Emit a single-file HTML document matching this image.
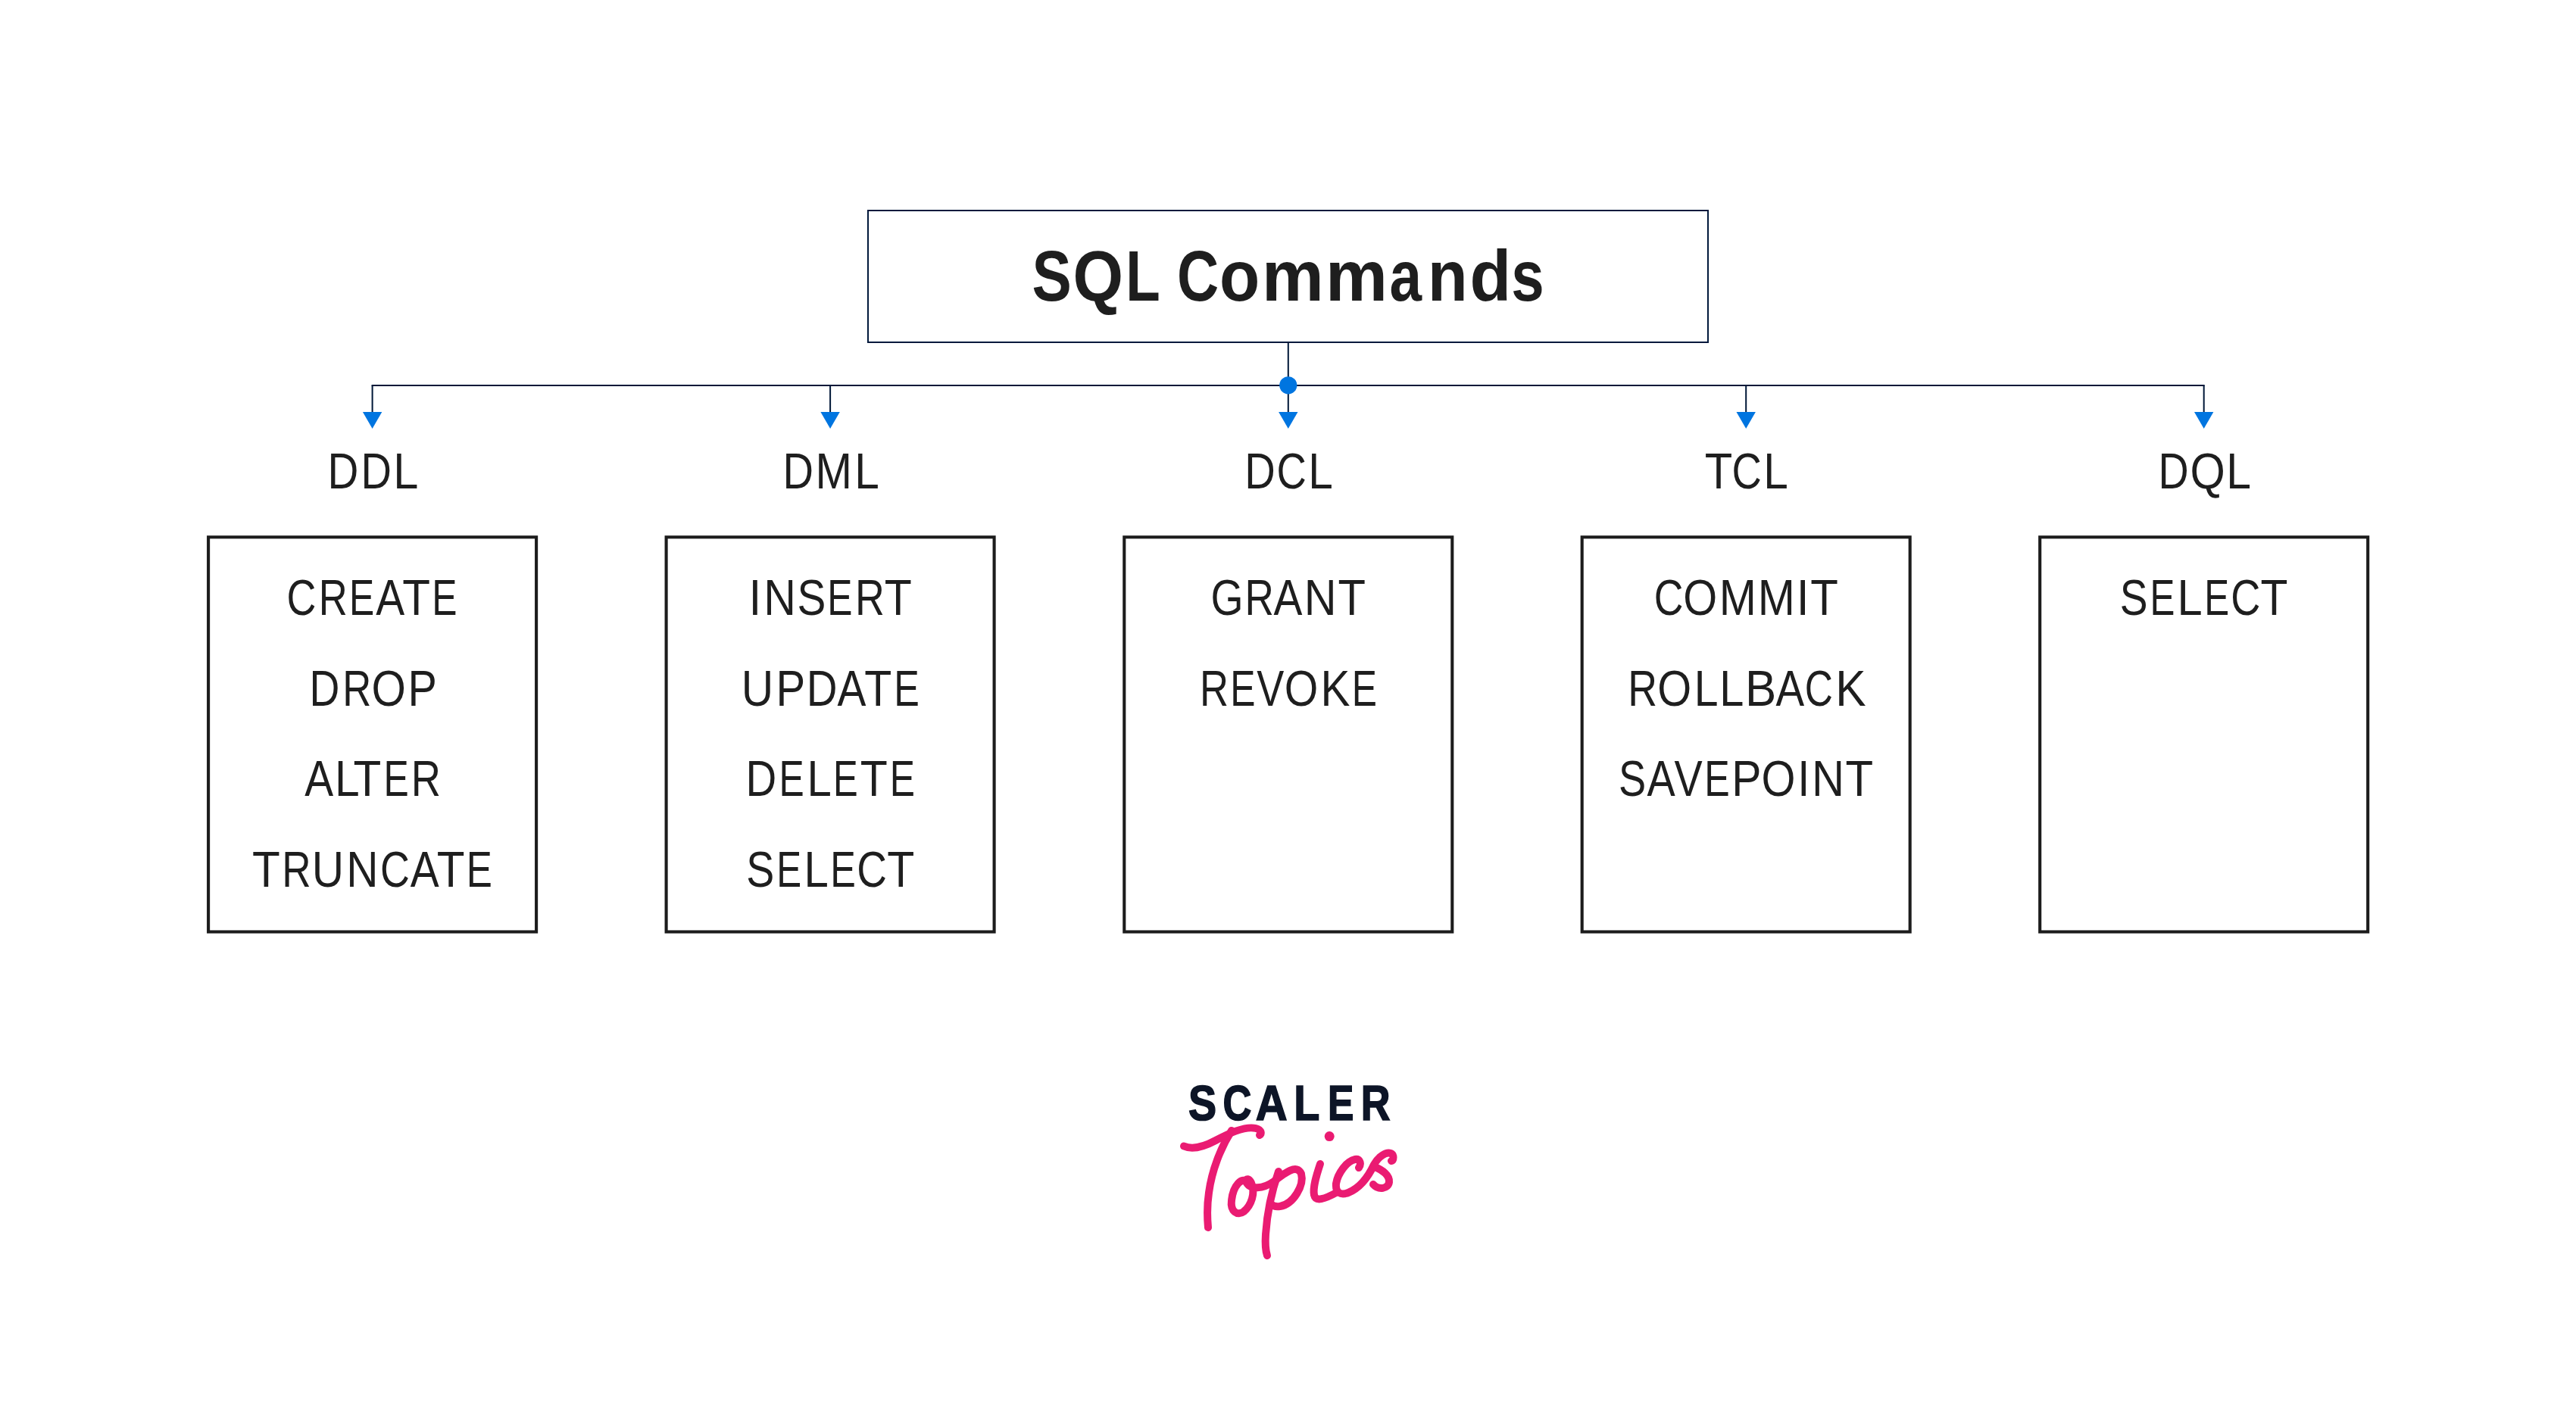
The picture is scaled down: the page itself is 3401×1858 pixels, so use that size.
<!DOCTYPE html>
<html><head><meta charset="utf-8"><title>SQL Commands</title>
<style>
html,body{margin:0;padding:0;background:#ffffff;}
body{width:3401px;height:1858px;overflow:hidden;}
svg{display:block;}
text{font-family:"Liberation Sans", sans-serif;}
</style></head>
<body>
<svg width="3401" height="1858" viewBox="0 0 3401 1858">
<rect width="3401" height="1858" fill="#ffffff"/>
<rect x="1146" y="278" width="1109" height="174" fill="none" stroke="#02193c" stroke-width="2"/>
<text transform="translate(1362.55 396.90) scale(0.8366 1)" font-size="93.75" font-weight="bold" fill="#1e1e1e">S</text>
<text transform="translate(1416.41 396.90) scale(0.9130 1)" font-size="93.75" font-weight="bold" fill="#1e1e1e">Q</text>
<text transform="translate(1486.18 396.90) scale(0.7948 1)" font-size="93.75" font-weight="bold" fill="#1e1e1e">L</text>
<text transform="translate(1553.89 396.90) scale(0.8147 1)" font-size="93.75" font-weight="bold" fill="#1e1e1e">C</text>
<text transform="translate(1609.91 396.90) scale(0.9303 1)" font-size="93.75" font-weight="bold" fill="#1e1e1e">o</text>
<text transform="translate(1666.03 396.90) scale(0.9813 1)" font-size="93.75" font-weight="bold" fill="#1e1e1e">m</text>
<text transform="translate(1749.92 396.90) scale(0.9827 1)" font-size="93.75" font-weight="bold" fill="#1e1e1e">m</text>
<text transform="translate(1834.50 396.90) scale(0.8160 1)" font-size="93.75" font-weight="bold" fill="#1e1e1e">a</text>
<text transform="translate(1884.92 396.90) scale(0.9184 1)" font-size="93.75" font-weight="bold" fill="#1e1e1e">n</text>
<text transform="translate(1940.44 396.90) scale(0.9541 1)" font-size="93.75" font-weight="bold" fill="#1e1e1e">d</text>
<text transform="translate(1995.29 396.90) scale(0.8333 1)" font-size="93.75" font-weight="bold" fill="#1e1e1e">s</text>
<rect x="1699.8" y="452" width="2" height="57" fill="#011838"/>
<rect x="490.6" y="508" width="2420.1" height="2" fill="#011838"/>
<rect x="490.6" y="509" width="2" height="36" fill="#011838"/>
<path d="M478.9 544 L504.3 544 L491.6 566 Z" fill="#0075e0"/>
<rect x="1095.1" y="509" width="2" height="36" fill="#011838"/>
<path d="M1083.4 544 L1108.8 544 L1096.1 566 Z" fill="#0075e0"/>
<rect x="1699.8" y="509" width="2" height="36" fill="#011838"/>
<path d="M1688.1 544 L1713.5 544 L1700.8 566 Z" fill="#0075e0"/>
<rect x="2304.2" y="509" width="2" height="36" fill="#011838"/>
<path d="M2292.5 544 L2317.9 544 L2305.2 566 Z" fill="#0075e0"/>
<rect x="2908.7" y="509" width="2" height="36" fill="#011838"/>
<path d="M2897.0 544 L2922.4 544 L2909.7 566 Z" fill="#0075e0"/>
<circle cx="1700.8" cy="508.8" r="11.6" fill="#0075e0"/>
<rect x="275.1" y="709.3" width="433" height="521.2" fill="none" stroke="#1c1c1c" stroke-width="4.1"/>
<rect x="879.6" y="709.3" width="433" height="521.2" fill="none" stroke="#1c1c1c" stroke-width="4.1"/>
<rect x="1484.3" y="709.3" width="433" height="521.2" fill="none" stroke="#1c1c1c" stroke-width="4.1"/>
<rect x="2088.7" y="709.3" width="433" height="521.2" fill="none" stroke="#1c1c1c" stroke-width="4.1"/>
<rect x="2693.2" y="709.3" width="433" height="521.2" fill="none" stroke="#1c1c1c" stroke-width="4.1"/>
<text transform="translate(432.54 644.80) scale(0.8442 1)" font-size="67.01" font-weight="normal" fill="#1e1e1e">D</text>
<text transform="translate(476.55 644.80) scale(0.8369 1)" font-size="67.01" font-weight="normal" fill="#1e1e1e">D</text>
<text transform="translate(519.37 644.80) scale(0.8889 1)" font-size="67.01" font-weight="normal" fill="#1e1e1e">L</text>
<text transform="translate(1033.41 644.80) scale(0.8377 1)" font-size="67.01" font-weight="normal" fill="#1e1e1e">D</text>
<text transform="translate(1076.41 644.80) scale(0.8673 1)" font-size="67.01" font-weight="normal" fill="#1e1e1e">M</text>
<text transform="translate(1128.24 644.80) scale(0.8743 1)" font-size="67.01" font-weight="normal" fill="#1e1e1e">L</text>
<text transform="translate(1643.35 644.80) scale(0.8377 1)" font-size="67.01" font-weight="normal" fill="#1e1e1e">D</text>
<text transform="translate(1685.60 644.80) scale(0.8115 1)" font-size="67.01" font-weight="normal" fill="#1e1e1e">C</text>
<text transform="translate(1727.31 644.80) scale(0.8743 1)" font-size="67.01" font-weight="normal" fill="#1e1e1e">L</text>
<text transform="translate(2250.70 644.80) scale(0.8926 1)" font-size="67.01" font-weight="normal" fill="#1e1e1e">T</text>
<text transform="translate(2286.57 644.80) scale(0.8115 1)" font-size="67.01" font-weight="normal" fill="#1e1e1e">C</text>
<text transform="translate(2328.27 644.80) scale(0.8743 1)" font-size="67.01" font-weight="normal" fill="#1e1e1e">L</text>
<text transform="translate(2849.43 644.80) scale(0.8306 1)" font-size="67.01" font-weight="normal" fill="#1e1e1e">D</text>
<text transform="translate(2891.44 644.80) scale(0.8890 1)" font-size="67.01" font-weight="normal" fill="#1e1e1e">Q</text>
<text transform="translate(2939.37 644.80) scale(0.8789 1)" font-size="67.01" font-weight="normal" fill="#1e1e1e">L</text>
<text transform="translate(378.43 812.30) scale(0.8031 1)" font-size="67.01" font-weight="normal" fill="#1e1e1e">C</text>
<text transform="translate(420.87 812.30) scale(0.7857 1)" font-size="67.01" font-weight="normal" fill="#1e1e1e">R</text>
<text transform="translate(460.90 812.30) scale(0.7437 1)" font-size="67.01" font-weight="normal" fill="#1e1e1e">E</text>
<text transform="translate(496.15 812.30) scale(0.8492 1)" font-size="67.01" font-weight="normal" fill="#1e1e1e">A</text>
<text transform="translate(531.18 812.30) scale(0.8995 1)" font-size="67.01" font-weight="normal" fill="#1e1e1e">T</text>
<text transform="translate(570.36 812.30) scale(0.7437 1)" font-size="67.01" font-weight="normal" fill="#1e1e1e">E</text>
<text transform="translate(408.58 931.70) scale(0.8242 1)" font-size="67.01" font-weight="normal" fill="#1e1e1e">D</text>
<text transform="translate(452.14 931.70) scale(0.7857 1)" font-size="67.01" font-weight="normal" fill="#1e1e1e">R</text>
<text transform="translate(490.62 931.70) scale(0.8710 1)" font-size="67.01" font-weight="normal" fill="#1e1e1e">O</text>
<text transform="translate(538.46 931.70) scale(0.8573 1)" font-size="67.01" font-weight="normal" fill="#1e1e1e">P</text>
<text transform="translate(402.33 1051.30) scale(0.8492 1)" font-size="67.01" font-weight="normal" fill="#1e1e1e">A</text>
<text transform="translate(442.12 1051.30) scale(0.8775 1)" font-size="67.01" font-weight="normal" fill="#1e1e1e">L</text>
<text transform="translate(466.51 1051.30) scale(0.8995 1)" font-size="67.01" font-weight="normal" fill="#1e1e1e">T</text>
<text transform="translate(506.39 1051.30) scale(0.7437 1)" font-size="67.01" font-weight="normal" fill="#1e1e1e">E</text>
<text transform="translate(542.70 1051.30) scale(0.8107 1)" font-size="67.01" font-weight="normal" fill="#1e1e1e">R</text>
<text transform="translate(332.89 1170.80) scale(0.8995 1)" font-size="67.01" font-weight="normal" fill="#1e1e1e">T</text>
<text transform="translate(372.22 1170.80) scale(0.7928 1)" font-size="67.01" font-weight="normal" fill="#1e1e1e">R</text>
<text transform="translate(411.81 1170.80) scale(0.8740 1)" font-size="67.01" font-weight="normal" fill="#1e1e1e">U</text>
<text transform="translate(457.34 1170.80) scale(0.8744 1)" font-size="67.01" font-weight="normal" fill="#1e1e1e">N</text>
<text transform="translate(502.10 1170.80) scale(0.8031 1)" font-size="67.01" font-weight="normal" fill="#1e1e1e">C</text>
<text transform="translate(541.63 1170.80) scale(0.8492 1)" font-size="67.01" font-weight="normal" fill="#1e1e1e">A</text>
<text transform="translate(576.67 1170.80) scale(0.8995 1)" font-size="67.01" font-weight="normal" fill="#1e1e1e">T</text>
<text transform="translate(615.74 1170.80) scale(0.7632 1)" font-size="67.01" font-weight="normal" fill="#1e1e1e">E</text>
<text transform="translate(988.55 812.30) scale(0.9026 1)" font-size="67.01" font-weight="normal" fill="#1e1e1e">I</text>
<text transform="translate(1008.17 812.30) scale(0.8819 1)" font-size="67.01" font-weight="normal" fill="#1e1e1e">N</text>
<text transform="translate(1052.61 812.30) scale(0.8470 1)" font-size="67.01" font-weight="normal" fill="#1e1e1e">S</text>
<text transform="translate(1092.36 812.30) scale(0.7436 1)" font-size="67.01" font-weight="normal" fill="#1e1e1e">E</text>
<text transform="translate(1128.98 812.30) scale(0.8034 1)" font-size="67.01" font-weight="normal" fill="#1e1e1e">R</text>
<text transform="translate(1167.63 812.30) scale(0.8807 1)" font-size="67.01" font-weight="normal" fill="#1e1e1e">T</text>
<text transform="translate(978.86 931.70) scale(0.8776 1)" font-size="67.01" font-weight="normal" fill="#1e1e1e">U</text>
<text transform="translate(1024.60 931.70) scale(0.8652 1)" font-size="67.01" font-weight="normal" fill="#1e1e1e">P</text>
<text transform="translate(1064.81 931.70) scale(0.8420 1)" font-size="67.01" font-weight="normal" fill="#1e1e1e">D</text>
<text transform="translate(1105.57 931.70) scale(0.8491 1)" font-size="67.01" font-weight="normal" fill="#1e1e1e">A</text>
<text transform="translate(1141.33 931.70) scale(0.8807 1)" font-size="67.01" font-weight="normal" fill="#1e1e1e">T</text>
<text transform="translate(1180.15 931.70) scale(0.7514 1)" font-size="67.01" font-weight="normal" fill="#1e1e1e">E</text>
<text transform="translate(984.51 1051.30) scale(0.8420 1)" font-size="67.01" font-weight="normal" fill="#1e1e1e">D</text>
<text transform="translate(1028.40 1051.30) scale(0.7436 1)" font-size="67.01" font-weight="normal" fill="#1e1e1e">E</text>
<text transform="translate(1065.38 1051.30) scale(0.8677 1)" font-size="67.01" font-weight="normal" fill="#1e1e1e">L</text>
<text transform="translate(1099.95 1051.30) scale(0.7318 1)" font-size="67.01" font-weight="normal" fill="#1e1e1e">E</text>
<text transform="translate(1135.65 1051.30) scale(0.8807 1)" font-size="67.01" font-weight="normal" fill="#1e1e1e">T</text>
<text transform="translate(1174.79 1051.30) scale(0.7436 1)" font-size="67.01" font-weight="normal" fill="#1e1e1e">E</text>
<text transform="translate(985.16 1170.80) scale(0.8286 1)" font-size="67.01" font-weight="normal" fill="#1e1e1e">S</text>
<text transform="translate(1025.17 1170.80) scale(0.7357 1)" font-size="67.01" font-weight="normal" fill="#1e1e1e">E</text>
<text transform="translate(1061.54 1170.80) scale(0.8677 1)" font-size="67.01" font-weight="normal" fill="#1e1e1e">L</text>
<text transform="translate(1096.29 1170.80) scale(0.7514 1)" font-size="67.01" font-weight="normal" fill="#1e1e1e">E</text>
<text transform="translate(1131.36 1170.80) scale(0.8197 1)" font-size="67.01" font-weight="normal" fill="#1e1e1e">C</text>
<text transform="translate(1171.18 1170.80) scale(0.8807 1)" font-size="67.01" font-weight="normal" fill="#1e1e1e">T</text>
<text transform="translate(1598.45 812.30) scale(0.8270 1)" font-size="67.01" font-weight="normal" fill="#1e1e1e">G</text>
<text transform="translate(1643.48 812.30) scale(0.7927 1)" font-size="67.01" font-weight="normal" fill="#1e1e1e">R</text>
<text transform="translate(1681.40 812.30) scale(0.8491 1)" font-size="67.01" font-weight="normal" fill="#1e1e1e">A</text>
<text transform="translate(1721.71 812.30) scale(0.8857 1)" font-size="67.01" font-weight="normal" fill="#1e1e1e">N</text>
<text transform="translate(1766.47 812.30) scale(0.8919 1)" font-size="67.01" font-weight="normal" fill="#1e1e1e">T</text>
<text transform="translate(1584.11 931.70) scale(0.7856 1)" font-size="67.01" font-weight="normal" fill="#1e1e1e">R</text>
<text transform="translate(1624.14 931.70) scale(0.7436 1)" font-size="67.01" font-weight="normal" fill="#1e1e1e">E</text>
<text transform="translate(1659.27 931.70) scale(0.8059 1)" font-size="67.01" font-weight="normal" fill="#1e1e1e">V</text>
<text transform="translate(1695.82 931.70) scale(0.8553 1)" font-size="67.01" font-weight="normal" fill="#1e1e1e">O</text>
<text transform="translate(1743.53 931.70) scale(0.8714 1)" font-size="67.01" font-weight="normal" fill="#1e1e1e">K</text>
<text transform="translate(1784.74 931.70) scale(0.7436 1)" font-size="67.01" font-weight="normal" fill="#1e1e1e">E</text>
<text transform="translate(2183.71 812.30) scale(0.7996 1)" font-size="67.01" font-weight="normal" fill="#1e1e1e">C</text>
<text transform="translate(2222.34 812.30) scale(0.8622 1)" font-size="67.01" font-weight="normal" fill="#1e1e1e">O</text>
<text transform="translate(2269.86 812.30) scale(0.8803 1)" font-size="67.01" font-weight="normal" fill="#1e1e1e">M</text>
<text transform="translate(2320.82 812.30) scale(0.8803 1)" font-size="67.01" font-weight="normal" fill="#1e1e1e">M</text>
<text transform="translate(2371.70 812.30) scale(0.9060 1)" font-size="67.01" font-weight="normal" fill="#1e1e1e">I</text>
<text transform="translate(2390.23 812.30) scale(0.8956 1)" font-size="67.01" font-weight="normal" fill="#1e1e1e">T</text>
<text transform="translate(2149.37 931.70) scale(0.8022 1)" font-size="67.01" font-weight="normal" fill="#1e1e1e">R</text>
<text transform="translate(2188.37 931.70) scale(0.8622 1)" font-size="67.01" font-weight="normal" fill="#1e1e1e">O</text>
<text transform="translate(2236.73 931.70) scale(0.8526 1)" font-size="67.01" font-weight="normal" fill="#1e1e1e">L</text>
<text transform="translate(2270.37 931.70) scale(0.8618 1)" font-size="67.01" font-weight="normal" fill="#1e1e1e">L</text>
<text transform="translate(2304.01 931.70) scale(0.9224 1)" font-size="67.01" font-weight="normal" fill="#1e1e1e">B</text>
<text transform="translate(2344.56 931.70) scale(0.8423 1)" font-size="67.01" font-weight="normal" fill="#1e1e1e">A</text>
<text transform="translate(2382.86 931.70) scale(0.7676 1)" font-size="67.01" font-weight="normal" fill="#1e1e1e">C</text>
<text transform="translate(2423.27 931.70) scale(0.9040 1)" font-size="67.01" font-weight="normal" fill="#1e1e1e">K</text>
<text transform="translate(2137.02 1051.30) scale(0.8097 1)" font-size="67.01" font-weight="normal" fill="#1e1e1e">S</text>
<text transform="translate(2174.45 1051.30) scale(0.8331 1)" font-size="67.01" font-weight="normal" fill="#1e1e1e">A</text>
<text transform="translate(2210.62 1051.30) scale(0.8320 1)" font-size="67.01" font-weight="normal" fill="#1e1e1e">V</text>
<text transform="translate(2250.21 1051.30) scale(0.7482 1)" font-size="67.01" font-weight="normal" fill="#1e1e1e">E</text>
<text transform="translate(2286.19 1051.30) scale(0.8766 1)" font-size="67.01" font-weight="normal" fill="#1e1e1e">P</text>
<text transform="translate(2325.60 1051.30) scale(0.8622 1)" font-size="67.01" font-weight="normal" fill="#1e1e1e">O</text>
<text transform="translate(2373.32 1051.30) scale(0.8629 1)" font-size="67.01" font-weight="normal" fill="#1e1e1e">I</text>
<text transform="translate(2392.09 1051.30) scale(0.8903 1)" font-size="67.01" font-weight="normal" fill="#1e1e1e">N</text>
<text transform="translate(2436.42 1051.30) scale(0.8956 1)" font-size="67.01" font-weight="normal" fill="#1e1e1e">T</text>
<text transform="translate(2798.66 812.30) scale(0.8237 1)" font-size="67.01" font-weight="normal" fill="#1e1e1e">S</text>
<text transform="translate(2838.53 812.30) scale(0.7365 1)" font-size="67.01" font-weight="normal" fill="#1e1e1e">E</text>
<text transform="translate(2874.52 812.30) scale(0.8901 1)" font-size="67.01" font-weight="normal" fill="#1e1e1e">L</text>
<text transform="translate(2910.19 812.30) scale(0.7365 1)" font-size="67.01" font-weight="normal" fill="#1e1e1e">E</text>
<text transform="translate(2945.34 812.30) scale(0.8078 1)" font-size="67.01" font-weight="normal" fill="#1e1e1e">C</text>
<text transform="translate(2984.60 812.30) scale(0.8782 1)" font-size="67.01" font-weight="normal" fill="#1e1e1e">T</text>
<text stroke="#0d1527" stroke-width="1.6" transform="translate(1569.03 1478.70) scale(0.8707 1)" font-size="63.95" font-weight="bold" fill="#0d1527">S</text>
<text stroke="#0d1527" stroke-width="1.6" transform="translate(1614.50 1478.70) scale(0.8202 1)" font-size="63.95" font-weight="bold" fill="#0d1527">C</text>
<text stroke="#0d1527" stroke-width="1.6" transform="translate(1657.69 1478.70) scale(0.9078 1)" font-size="63.95" font-weight="bold" fill="#0d1527">A</text>
<text stroke="#0d1527" stroke-width="1.6" transform="translate(1708.21 1478.70) scale(0.8731 1)" font-size="63.95" font-weight="bold" fill="#0d1527">L</text>
<text stroke="#0d1527" stroke-width="1.6" transform="translate(1752.99 1478.70) scale(0.8069 1)" font-size="63.95" font-weight="bold" fill="#0d1527">E</text>
<text stroke="#0d1527" stroke-width="1.6" transform="translate(1796.85 1478.70) scale(0.8408 1)" font-size="63.95" font-weight="bold" fill="#0d1527">R</text>
<g fill="none" stroke="#ea1b72" stroke-width="10" stroke-linecap="round" stroke-linejoin="round">
<path d="M1563,1513.5 C1575,1519 1590,1514 1605,1506 C1625,1495 1645,1487 1658,1490 C1666,1492 1666,1498 1663,1499"/>
<path d="M1626,1493 C1612,1515 1600,1545 1596,1575 C1593,1595 1594,1610 1595,1621"/>
<path d="M1648,1562 C1640,1552 1628,1566 1626,1585 C1624,1600 1634,1606 1642,1600 C1652,1592 1658,1575 1652,1562 C1649,1556 1645,1556 1645,1560 C1650,1572 1668,1570 1682,1560 C1695,1550 1712,1536 1718,1550 C1722,1565 1708,1590 1690,1593 C1684,1594 1680,1592 1678,1590"/>
<path d="M1688,1547 C1680,1570 1673,1600 1671,1630 C1670,1645 1671,1652 1673,1658"/>
<path d="M1743,1537 C1738,1552 1733,1568 1735,1578 C1737,1587 1748,1584 1766,1574"/>
<path d="M1794,1542 C1798,1536 1795,1530 1789,1531 C1778,1533 1766,1550 1764,1563 C1763,1575 1770,1579 1780,1575 C1795,1569 1806,1555 1814,1538 C1820,1527 1830,1521 1836,1523 C1841,1525 1840,1532 1837,1533"/>
<path d="M1815,1541 C1825,1545 1835,1552 1834,1561 C1833,1570 1820,1572 1813,1564"/>
</g>
<circle cx="1755.2" cy="1500.6" r="6.5" fill="#ea1b72"/>

</svg>
</body></html>
